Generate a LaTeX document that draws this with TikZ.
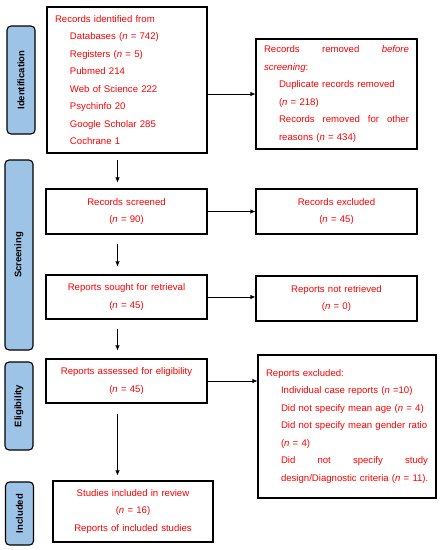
\documentclass[tikz,border=0pt]{standalone}
\usepackage{fontspec}
\setmainfont{Liberation Sans}
\usepackage{xcolor}
\usetikzlibrary{arrows.meta}
\definecolor{phaseblue}{RGB}{157,195,230}
\definecolor{prisred}{RGB}{255,0,0}
\newcommand{\prsub}{\hspace*{15pt}}
\tikzstyle{box} = [draw=black, line width=1.1pt, text=prisred, inner ysep=0pt,
    font=\fontsize{9.6}{17.5}\selectfont, execute at begin node={\parindent=0pt\hyphenpenalty=10000}]
\tikzstyle{phase} = [draw=black, line width=1.1pt, fill=phaseblue, rounded corners=4pt,
    minimum height=28pt, inner sep=0pt, rotate=90, font=\fontsize{9.5}{10}\bfseries\selectfont]
\tikzstyle{arr} = [-{Latex[length=5pt,width=4.5pt]}, line width=0.7pt]

\begin{document}
\begin{tikzpicture}[x=1pt,y=-1pt]
  \useasboundingbox (0,0) rectangle (443,550);

  \node[phase, minimum width=108pt] (pid) at (21,80) {Identification};
  \node[phase, minimum width=190pt] (pscr) at (19,255) {Screening};
  \node[phase, minimum width=88pt] (pel) at (19,406) {Eligibility};
  \node[phase, minimum width=63pt] (pin) at (19.5,513.5) {Included};

  \node[box, minimum width=160pt, minimum height=146pt, inner xsep=8pt, text width=144pt, align=left] (ids) at (127,80) {Records identified from\\
    \prsub Databases (\textit{n} = 742)\\
    \prsub Registers (\textit{n} = 5)\\
    \prsub Pubmed 214\\
    \prsub Web of Science 222\\
    \prsub Psychinfo 20\\
    \prsub Google Scholar 285\\
    \prsub Cochrane 1};
  \node[box, minimum width=161pt, minimum height=110pt, inner xsep=8pt, text width=145pt, align=left] (rem) at (336.5,94) {Records\hfill removed\hfill \textit{before}\\
    \textit{screening}:\\
    \prsub Duplicate records removed\\
    \prsub (\textit{n} = 218)\\
    \prsub Records\hfill removed\hfill for\hfill other\\
    \prsub reasons (\textit{n} = 434)};

  \node[box, minimum width=161pt, minimum height=45pt, text width=150pt, align=center] (scr) at (126.5,211.5) {Records screened\\(\textit{n} = 90)};
  \node[box, minimum width=161pt, minimum height=45pt, text width=150pt, align=center] (exc) at (336.5,211.5) {Records excluded\\(\textit{n} = 45)};
  \node[box, minimum width=161pt, minimum height=44pt, text width=150pt, align=center] (sgt) at (126.5,297) {Reports sought for retrieval\\(\textit{n} = 45)};
  \node[box, minimum width=161pt, minimum height=45pt, text width=150pt, align=center] (nrt) at (336.5,298.5) {Reports not retrieved\\(\textit{n} = 0)};
  \node[box, minimum width=161pt, minimum height=44pt, text width=150pt, align=center] (ass) at (126.5,381) {Reports assessed for eligibility\\(\textit{n} = 45)};
  \node[box, minimum width=178pt, minimum height=143pt, inner xsep=8pt, text width=162pt, align=left] (rex) at (347,426.5) {Reports excluded:\\
    \prsub Individual case reports (\textit{n} =10)\\
    \prsub Did not specify mean age (\textit{n} = 4)\\
    \prsub\mbox{Did not specify mean gender ratio}\\
    \prsub (\textit{n} = 4)\\
    \prsub Did\hfill not\hfill specify\hfill study\\
    \prsub\mbox{design/Diagnostic criteria (\textit{n} = 11).}};
  \node[box, minimum width=160pt, minimum height=61pt, text width=150pt, align=center] (inc) at (133,511.5) {Studies included in review\\(\textit{n} = 16)\\Reports of included studies};

  \coordinate (axis) at (117.5,0);
  \draw[arr] (ids.east |- rem.west) -- (rem.west);
  \draw[arr] (scr.east) -- (exc.west);
  \draw[arr] (sgt.east) -- (sgt.east -| nrt.west);
  \draw[arr] (ass.east) -- (ass.east -| rex.west);
  \draw[arr, shorten <=6pt, shorten >=6pt] (ids.south -| axis) -- (scr.north -| axis);
  \draw[arr, shorten <=9pt, shorten >=8pt] (scr.south -| axis) -- (sgt.north -| axis);
  \draw[arr, shorten <=9pt, shorten >=8pt] (sgt.south -| axis) -- (ass.north -| axis);
  \draw[arr, shorten <=10pt, shorten >=5pt] (ass.south -| axis) -- (inc.north -| axis);
\end{tikzpicture}
\end{document}
